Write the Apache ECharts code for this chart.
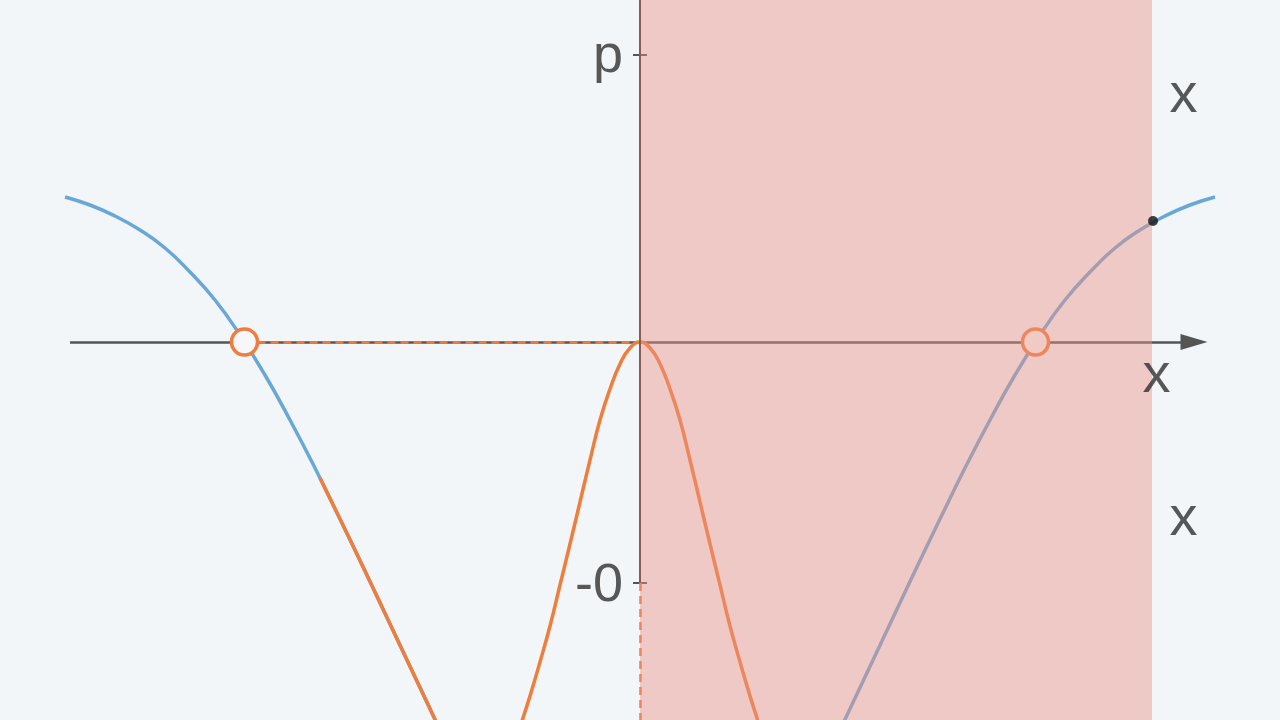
<!DOCTYPE html>
<html>
<head>
<meta charset="utf-8">
<style>
  html, body { margin: 0; padding: 0; background: #f3f6f9; }
  #chart { width: 1280px; height: 720px; }
</style>
<script src="https://cdn.jsdelivr.net/npm/echarts@6/dist/echarts.min.js"></script>
</head>
<body>
<div id="chart"></div>
<script>
// ---- data (math units: 1 unit = 100 px) ----
const blueLeft = [[-5.75,1.45],[-5.50,1.37],[-5.25,1.26],[-5.00,1.12],[-4.75,0.94],[-4.50,0.70],[-4.25,0.42],[-4.00,0.07],[-3.75,-0.33],[-3.50,-0.78],[-3.25,-1.26],[-3.00,-1.77],[-2.75,-2.29],[-2.50,-2.82],[-2.25,-3.35],[-2.00,-3.88],[-1.75,-4.41]];
const blueRight = [[1.75,-4.41],[2.00,-3.88],[2.25,-3.35],[2.50,-2.82],[2.75,-2.29],[3.00,-1.77],[3.25,-1.26],[3.50,-0.78],[3.75,-0.33],[4.00,0.07],[4.25,0.42],[4.50,0.70],[4.75,0.94],[5.00,1.12],[5.25,1.26],[5.50,1.37],[5.75,1.45]];
const orangeLeft = [[-3.20,-1.36],[-3.00,-1.77],[-2.75,-2.29],[-2.50,-2.82],[-2.25,-3.35],[-2.00,-3.88],[-1.75,-4.41]];
const orangePeak = [[-1.40,-4.38],[-1.30,-4.13],[-1.20,-3.85],[-1.10,-3.54],[-1.00,-3.20],[-0.90,-2.84],[-0.80,-2.43],[-0.70,-2.02],[-0.60,-1.60],[-0.50,-1.18],[-0.40,-0.78],[-0.30,-0.47],[-0.20,-0.22],[-0.10,-0.06],[0,0],[0.10,-0.06],[0.20,-0.22],[0.30,-0.47],[0.40,-0.78],[0.50,-1.18],[0.60,-1.60],[0.70,-2.02],[0.80,-2.43],[0.90,-2.84],[1.00,-3.20],[1.10,-3.54],[1.20,-3.85],[1.30,-4.13],[1.40,-4.38]];
const openPoints = [[-3.955,0],[3.955,0]];
const markedPoint = [[5.13,1.21]];
const shadeRange = [0, 5.12];
const xAxisExtent = [-5.70, 5.54];
const yAxisTop = 3.42;
const tickValues = [2.87, -2.41];
const tickLabels = ['p', '-0'];
const tickLabelPos = [[-0.17, 2.85], [-0.17, -2.44]];
const varLabels = ['x', 'x', 'x'];
const varLabelPos = [[5.435, 2.45], [5.165, -0.35], [5.435, -1.78]];
const dashFrom = -3.955;
const viewX = [-6.4, 6.4];
const viewY = [-3.78, 3.42];

// ---- styles ----
const BLUE = '#69a7d6';
const ORANGE = '#ef7d3c';
const AXIS = '#555555';
const FONT = 'Liberation Sans, Arial, sans-serif';

const chart = echarts.init(document.getElementById('chart'));
const lineBase = { type: 'line', showSymbol: false, symbol: 'none', silent: true, clip: true, smooth: 0.5 };

chart.setOption({
  backgroundColor: '#f3f6f9',
  animation: false,
  grid: { left: 0, right: 0, top: 0, bottom: 0 },
  xAxis: { type: 'value', min: viewX[0], max: viewX[1], show: false },
  yAxis: { type: 'value', min: viewY[0], max: viewY[1], show: false },
  series: [
    { type: 'line', data: [], silent: true,
      markLine: { z: 1, silent: true, animation: false, symbol: ['none', 'triangle'], symbolSize: [16, 27],
        label: { show: false }, lineStyle: { color: AXIS, width: 2.5, type: 'solid' },
        data: [[{ coord: [xAxisExtent[0], 0] }, { coord: [xAxisExtent[1], 0] }]] } },
    { type: 'line', data: [], silent: true,
      markLine: { z: 1, silent: true, animation: false, symbol: 'none',
        label: { show: false }, lineStyle: { color: AXIS, width: 2, type: 'solid' },
        data: tickValues.map(v => [{ coord: [-0.07, v] }, { coord: [0.07, v] }]) } },
    Object.assign({}, lineBase, { z: 2, data: blueLeft, lineStyle: { color: BLUE, width: 3.5 } }),
    Object.assign({}, lineBase, { z: 2, data: blueRight, lineStyle: { color: BLUE, width: 3.5 } }),
    Object.assign({}, lineBase, { z: 3, data: orangeLeft, lineStyle: { color: ORANGE, width: 3.5 } }),
    Object.assign({}, lineBase, { z: 3, data: orangePeak, lineStyle: { color: ORANGE, width: 3.5 } }),
    { type: 'line', data: [], silent: true,
      markLine: { z: 3, silent: true, animation: false, symbol: 'none',
        label: { show: false }, lineStyle: { color: ORANGE, width: 2.5, type: [8, 5] },
        data: [
          [{ coord: [dashFrom, 0] }, { coord: [0, 0] }],
          [{ coord: [0, tickValues[1]] }, { coord: [0, viewY[0]] }]
        ] } },
    { type: 'scatter', z: 4, silent: true, symbol: 'circle', symbolSize: 26,
      itemStyle: { color: '#f5f7fa', borderColor: ORANGE, borderWidth: 3.5, opacity: 1 },
      data: openPoints },
    { type: 'line', data: [], silent: true,
      markArea: { z: 5, silent: true, animation: false,
        itemStyle: { color: 'rgba(236,146,133,0.45)' },
        label: { show: false },
        data: [[{ xAxis: shadeRange[0] }, { xAxis: shadeRange[1] }]] } },
    { type: 'line', data: [], silent: true,
      markLine: { z: 6, silent: true, animation: false, symbol: 'none',
        label: { show: false }, lineStyle: { color: '#8b5a55', width: 2, type: 'solid' },
        data: [[{ coord: [0, yAxisTop] }, { coord: [0, tickValues[1]] }]] } },
    { type: 'scatter', z: 7, silent: true, symbol: 'circle', symbolSize: 10,
      itemStyle: { color: '#111111' }, data: markedPoint },
    { type: 'scatter', z: 7, silent: true, symbolSize: 0,
      label: { show: true, position: 'inside', align: 'right', verticalAlign: 'middle',
        formatter: p => p.name, fontFamily: FONT, fontSize: 54, color: '#2f2f2f' },
      data: tickLabelPos.map((p, i) => ({ value: p, name: tickLabels[i] })) },
    { type: 'scatter', z: 7, silent: true, symbolSize: 0,
      label: { show: true, position: 'inside', align: 'center', verticalAlign: 'middle',
        formatter: p => p.name, fontFamily: FONT, fontSize: 56, color: '#2f2f2f' },
      data: varLabelPos.map((p, i) => ({ value: p, name: varLabels[i] })) }
  ]
});
</script>
</body>
</html>
